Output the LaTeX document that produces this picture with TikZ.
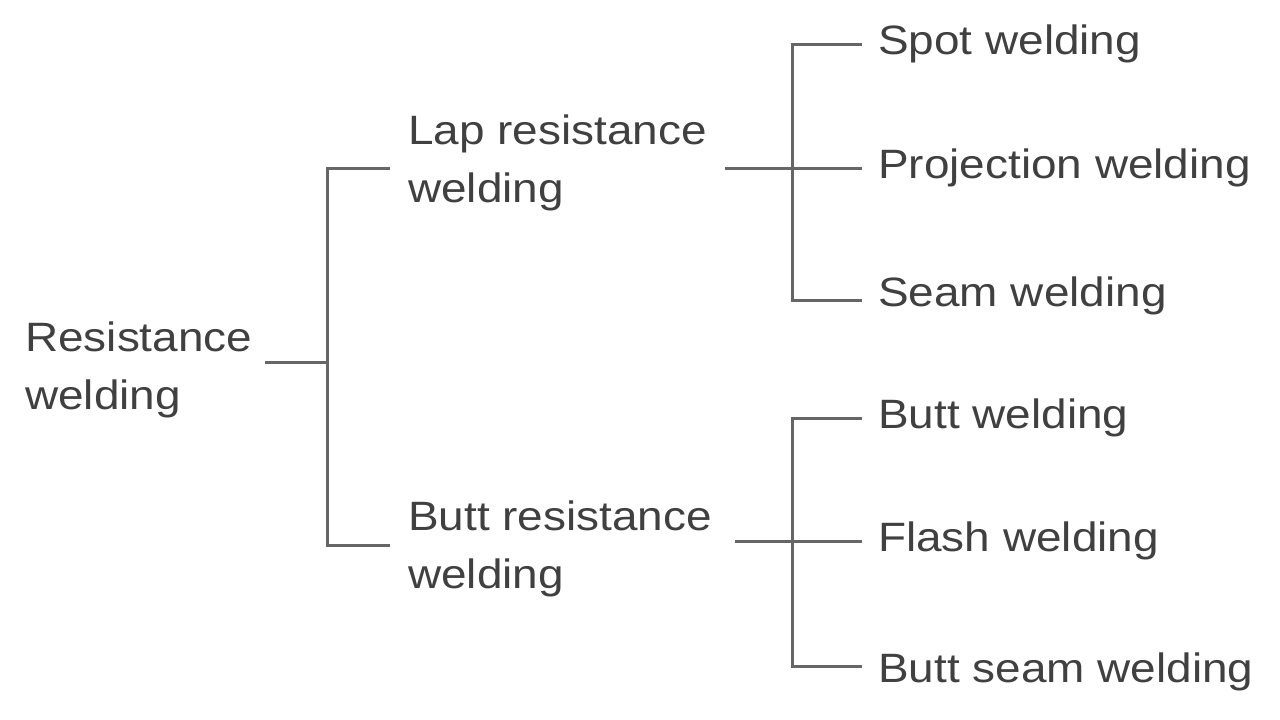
\documentclass[tikz,border=0pt]{standalone}
\usepackage{fontspec}
\setmainfont{Liberation Sans}[FakeStretch=1.12]
\begin{document}
\begin{tikzpicture}[x=1pt,y=-1pt,
  lbl/.style={anchor=west,inner sep=0pt,text=black!75,font=\fontsize{41}{58}\selectfont,align=left},
  ln/.style={draw=black!60,line width=3pt}]
\useasboundingbox (0,0) rectangle (1280,720);
\node[lbl] (rw) at (25,370) {Resistance\\welding};
\node[lbl] (lap) at (408,163) {Lap resistance\\welding};
\node[lbl] (butt) at (408,549) {Butt resistance\\welding};
\node[lbl] (spot) at (878,44) {Spot welding};
\node[lbl] (proj) at (878,168) {Projection welding};
\node[lbl] (seam) at (878,296) {Seam welding};
\node[lbl] (bw) at (878,418) {Butt welding};
\node[lbl] (fw) at (878,541) {Flash welding};
\node[lbl] (bsw) at (878,672) {Butt seam welding};
\coordinate (a0) at (265,362); \coordinate (a1) at (327,362);
\coordinate (a2) at (327,168); \coordinate (a3) at (327,545);
\coordinate (a4) at (390,168); \coordinate (a5) at (390,545);
\draw[ln] (a0) -- (a1);
\draw[ln] (a4) -- (a2) -- (a3) -- (a5);
\coordinate (b0) at (725,168); \coordinate (b1) at (792,44); \coordinate (b2) at (792,300);
\coordinate (b3) at (862,44); \coordinate (b4) at (862,168); \coordinate (b5) at (862,300);
\draw[ln] (b0) -- (b4);
\draw[ln] (b3) -- (b1) -- (b2) -- (b5);
\coordinate (c0) at (735,541); \coordinate (c1) at (792,418); \coordinate (c2) at (792,666);
\coordinate (c3) at (862,418); \coordinate (c4) at (862,541); \coordinate (c5) at (862,666);
\draw[ln] (c0) -- (c4);
\draw[ln] (c3) -- (c1) -- (c2) -- (c5);
\end{tikzpicture}
\end{document}
